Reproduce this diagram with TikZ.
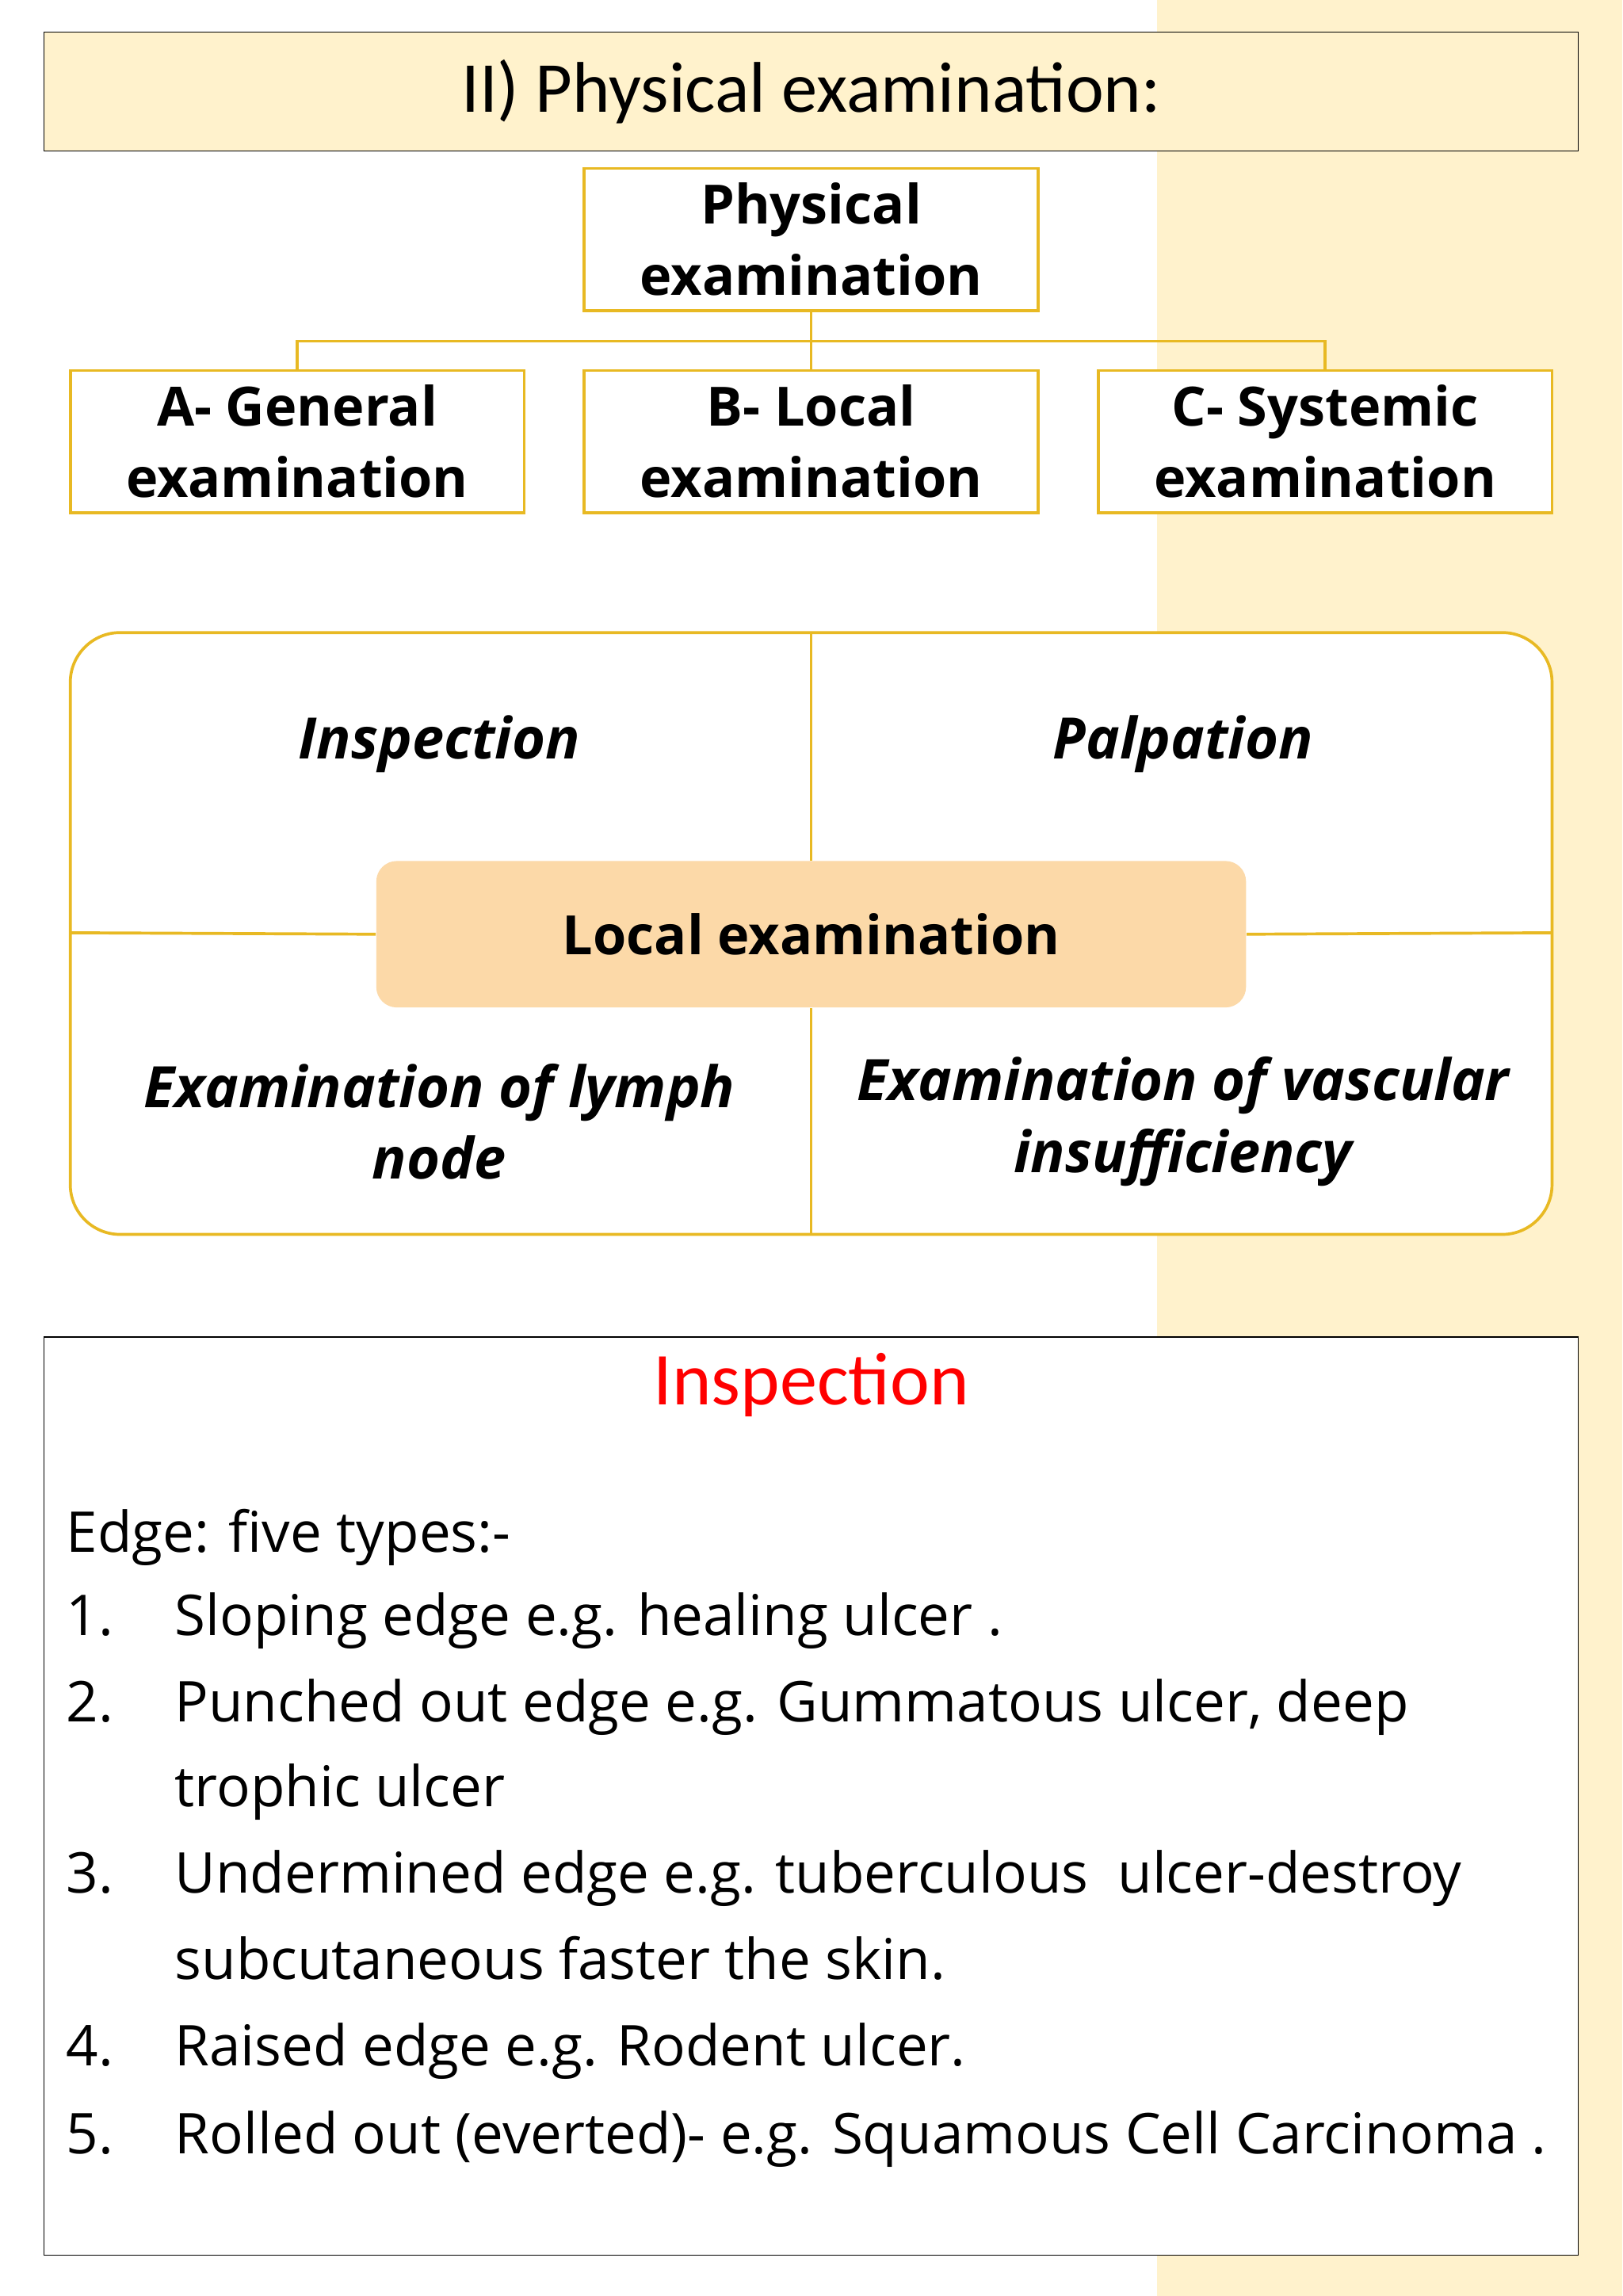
\documentclass[tikz,border=0pt]{standalone}
\usepackage{fontspec}
\setmainfont{Carlito}
\newfontfamily\os{Open Sans}
\begin{document}
\begin{tikzpicture}[x=0.5pt,y=-0.5pt,
  gbox/.style={draw=gold,line width=1pt,fill=white,minimum width=155pt,minimum height=48.5pt,align=center,font=\os\fontsize{18.5}{24.5}\selectfont\bfseries,inner sep=0pt},
  quad/.style={align=center,font=\os\fontsize{19.5}{24.5}\selectfont\bfseries\itshape},
  item/.style={anchor=base west,font=\os\fontsize{19.2}{24}\selectfont,inner sep=0pt},
  gl/.style={draw=gold,line width=1pt}]
\definecolor{gold}{HTML}{E8B923}
\definecolor{cream}{HTML}{FFF2CC}
\definecolor{peach}{HTML}{FCD9A8}
\useasboundingbox (0,0) rectangle (1108,1568);
\fill[white] (0,0) rectangle (1108,1568);
\fill[cream] (790,0) rectangle (1108,1568);
\node[draw=black,fill=cream,minimum width=524pt,minimum height=40.5pt,inner sep=0pt,font=\fontsize{24.5}{28}\selectfont] (title) at (554,62.5) {II) Physical examination:};
\node[gbox] (pe) at (554,163.5) {Physical\\examination};
\node[gbox] (a) at (203,301.5) {A- General\\examination};
\node[gbox] (b) at (554,301.5) {B- Local\\examination};
\node[gbox] (c) at (905,301.5) {C- Systemic\\examination};
\coordinate (j) at (554,233);
\draw[gl] (pe.south) -- (j);
\draw[gl] (a.north) |- (j) -| (c.north);
\draw[gl] (j) -- (b.north);
\draw[gl,fill=white,rounded corners=17pt] (48,432) rectangle (1060,843);
\node[fill=peach,rounded corners=7pt,minimum width=297pt,minimum height=50pt,inner sep=0pt,font=\os\fontsize{18.5}{24}\selectfont\bfseries] (le) at (554,638) {Local examination};
\coordinate (t) at (554,432); \coordinate (bt) at (554,843);
\coordinate (l) at (48,637); \coordinate (r) at (1060,637);
\draw[gl] (t) -- (le.north); \draw[gl] (le.south) -- (bt);
\draw[gl] (l) -- (le.west); \draw[gl] (le.east) -- (r);
\node[quad] (q1) at (300,508) {Inspection};
\node[quad] (q2) at (808,508) {Palpation};
\node[quad] (q3) at (300,766) {Examination of lymph\\node};
\node[quad] (q4) at (808,766) {Examination of vascular\\insufficiency};
\node[draw=black,fill=white,minimum width=524pt,minimum height=313.5pt,inner sep=0pt] (box) at (554,1226.5) {};
\node[text=red,font=\fontsize{25.5}{30}\selectfont] (ins) at (554,946) {Inspection};
\node[item] (e0) at (45,1060) {Edge: five types:-};
\node[item] (n1) at (45,1117) {1.}; \node[item] (t1) at (119,1117) {Sloping edge e.g. healing ulcer .};
\node[item] (n2) at (45,1176) {2.}; \node[item] (t2) at (119,1176) {Punched out edge e.g. Gummatous ulcer, deep};
\node[item] (t2b) at (119,1234) {trophic ulcer};
\node[item] (n3) at (45,1293) {3.}; \node[item] (t3) at (119,1293) {Undermined edge e.g. tuberculous\ \ ulcer-destroy};
\node[item] (t3b) at (119,1352) {subcutaneous faster the skin.};
\node[item] (n4) at (45,1411) {4.}; \node[item] (t4) at (119,1411) {Raised edge e.g. Rodent ulcer.};
\node[item] (n5) at (45,1471) {5.}; \node[item] (t5) at (119,1471) {Rolled out (everted)- e.g. Squamous Cell Carcinoma\ .};
\end{tikzpicture}
\end{document}
